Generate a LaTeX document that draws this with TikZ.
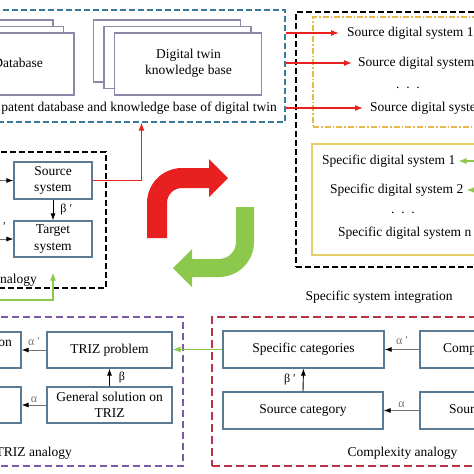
\documentclass[tikz,border=0pt]{standalone}
\usepackage{fontspec}
\setmainfont{Liberation Serif}
\usetikzlibrary{arrows.meta}

\definecolor{frameblue}{HTML}{3B7A9E}
\definecolor{framepurple}{HTML}{7A5AA8}
\definecolor{framered}{HTML}{B83246}
\definecolor{frameyellow}{HTML}{E8B84A}
\definecolor{boxyellow}{HTML}{E6CF6A}
\definecolor{boxslate}{HTML}{5B7B95}
\definecolor{boxlilac}{HTML}{8A8AA8}
\definecolor{flowred}{HTML}{E8201F}
\definecolor{flowgreen}{HTML}{8CC84B}

\tikzset{
  txt/.style={font=\fontsize{13.5}{16.5}\selectfont, inner sep=0pt, align=center},
  lbl/.style={font=\fontsize{12}{14}\selectfont, inner sep=1pt},
  frame/.style={draw, line width=1.2pt, inner sep=0pt},
  block/.style={txt, draw=boxslate, line width=1.1pt, fill=white},
  sheet/.style={draw=boxlilac, line width=1.1pt, fill=white, minimum width=147pt, minimum height=62pt},
  redline/.style={flowred, line width=1.1pt, -{Latex[length=8pt,width=6pt]}},
  greenline/.style={flowgreen, line width=1.1pt, -{Latex[length=8pt,width=6pt]}},
  darkline/.style={black!55, line width=0.9pt, -{Latex[color=black,length=7pt,width=5pt]}},
}

\begin{document}
\begin{tikzpicture}[x=1pt,y=-1pt]
  \useasboundingbox (0,0) rectangle (474,474);

  % Database and knowledge base
  \node[frame, draw=frameblue, dash pattern=on 6pt off 3pt, minimum width=287pt, minimum height=112pt] (libbox) at (141.5,66) {};
  \foreach \k in {0,1,2} {
    \node[sheet] at (-20.5+10.5*\k, 51+6.5*\k) {};
    \node[sheet] at (167+10.5*\k, 51+6.5*\k) {};
  }
  \node[txt, anchor=east] (patentdb) at (43,63) {Database};
  \node[txt] (twinkb) at (188.5,63.5) {Digital twin\\knowledge base};
  \node[txt, anchor=east] (libcap) at (277,108) {patent database and knowledge base of digital twin};

  % Specific system integration
  \node[frame, draw=black, dash pattern=on 6pt off 3pt, minimum width=200pt, minimum height=255pt] (integbox) at (396,139.5) {};
  \node[frame, draw=frameyellow, dash pattern=on 6pt off 2pt on 1.5pt off 2pt, minimum width=177pt, minimum height=110pt] (srcgroup) at (401.5,72) {};
  \node[frame, draw=boxyellow, line width=1.8pt, minimum width=178pt, minimum height=111pt] (specgroup) at (401,199.5) {};

  \node[txt, anchor=west] (srcone) at (347,33) {Source digital system 1};
  \node[txt, anchor=west] (srctwo) at (358,63) {Source digital system 2};
  \node[txt, anchor=base] (srcdots) at (408,88) {.\ \ .\ \ .};
  \node[txt, anchor=west] (srcn) at (370,108) {Source digital system n};
  \draw[redline, shorten >=8pt] (libbox.east |- srcone.west) -- (srcone.west);
  \draw[redline, shorten >=6pt] (libbox.east |- srctwo.west) -- (srctwo.west);
  \draw[redline, shorten >=7pt] (libbox.east |- srcn.west) -- (srcn.west);

  \node[txt, anchor=west] (specone) at (322,161) {Specific digital system 1};
  \node[txt, anchor=west] (spectwo) at (330,190) {Specific digital system 2};
  \node[txt, anchor=base] (specdots) at (403,213) {.\ \ .\ \ .};
  \node[txt, anchor=west] (specn) at (338,233) {Specific digital system n};
  \draw[greenline, shorten >=3pt] ([xshift=40pt]specone.east) -- (specone.east);
  \draw[greenline, shorten >=3pt] ([xshift=40pt]spectwo.east) -- (spectwo.east);

  \node[txt] (integcap) at (379,297) {Specific system integration};

  % System analogy
  \node[frame, draw=black, dash pattern=on 6pt off 3pt, minimum width=116pt, minimum height=136pt] (anabox) at (48,220) {};
  \node[block, minimum width=78pt, minimum height=37pt] (srcsys) at (53,180.5) {Source\\system};
  \node[block, minimum width=78pt, minimum height=36pt] (tgtsys) at (53,239) {Target\\system};
  \draw[darkline, black] (srcsys) -- (tgtsys) node[lbl, midway, right=6pt] {β ′};
  \draw[darkline] ([xshift=-20pt]srcsys.west) -- (srcsys.west);
  \draw[darkline] ([xshift=-20pt]tgtsys.west) -- (tgtsys.west);
  \node[lbl, anchor=east] (alphaleft) at (7,227) {α \,′};
  \node[txt, anchor=east] (anacap) at (37,280) {System analogy};
  \draw[redline] (srcsys.east) -| (libbox.south);
  \coordinate (trizout) at (-5,300);
  \draw[greenline] (trizout) -| ([yshift=-15pt]tgtsys.south);

  % Cycle arrows
  \fill[flowred] (147,238) -- (147,203) arc[start angle=180, end angle=270, radius=35]
    -- (209,168) -- (209,159) -- (228,178) -- (209,197) -- (209,188) -- (182,188)
    arc[start angle=270, end angle=180, radius=15] -- (167,238) -- cycle;
  \fill[flowgreen] (254,207) -- (254,242) arc[start angle=0, end angle=90, radius=35]
    -- (192,277) -- (192,287) -- (173,268) -- (192,249) -- (192,259) -- (219,259)
    arc[start angle=90, end angle=0, radius=17] -- (236,207) -- cycle;

  % TRIZ analogy
  \node[frame, draw=framepurple, dash pattern=on 7pt off 4pt, minimum width=193pt, minimum height=149pt] (trizbox) at (86.5,391.5) {};
  \node[block, minimum width=125pt, minimum height=36pt] (trizprob) at (109.5,350) {TRIZ problem};
  \node[block, minimum width=125pt, minimum height=36pt] (gensol) at (109.5,405) {General solution on\\TRIZ};
  \node[block, minimum width=125pt, minimum height=36pt] (specsol) at (-41.5,350) {};
  \node[block, minimum width=125pt, minimum height=36pt] (realsol) at (-41.5,405) {};
  \node[txt, anchor=east] (specsoltxt) at (12,342) {Innovative solution};
  \draw[darkline] (trizprob.west) -- (specsol.east) node[lbl, midway, above=3pt] {α ′};
  \draw[darkline] (gensol.west) -- (realsol.east) node[lbl, midway, above=1pt] {α};
  \draw[darkline, black] (gensol.north) -- (trizprob.south) node[lbl, midway, right=8pt] {β};
  \node[txt, anchor=east] (trizcap) at (72,453) {TRIZ analogy};

  % Complexity analogy
  \node[frame, draw=framered, dash pattern=on 8pt off 4pt, minimum width=280pt, minimum height=149pt] (cplxbox) at (352,391.5) {};
  \node[block, minimum width=161pt, minimum height=37pt] (speccat) at (303.5,349.5) {Specific categories};
  \node[block, minimum width=160pt, minimum height=37pt] (srccat) at (303,410.5) {Source category};
  \node[block, minimum width=160pt, minimum height=37pt] (cplxcat) at (500,349.5) {Complexity category};
  \node[block, minimum width=160pt, minimum height=37pt] (srccplx) at (500,410.5) {Source complexity};
  \draw[darkline] (cplxcat.west) -- (speccat.east) node[lbl, midway, above=3pt] {α ′};
  \draw[darkline] (srccplx.west) -- (srccat.east) node[lbl, midway, above=1pt] {α};
  \draw[darkline, black] (srccat.north) -- (speccat.south) node[lbl, midway, left=6pt] {β ′};
  \draw[greenline] (speccat.west) -- (speccat.west -| trizprob.east);
  \node[txt] (cplxcap) at (402.5,453) {Complexity analogy};

\end{tikzpicture}
\end{document}
